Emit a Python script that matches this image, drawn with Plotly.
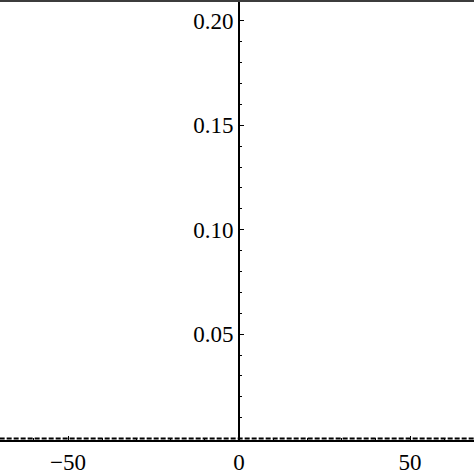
import plotly.graph_objects as go

# curve values (flat at zero over the whole range)
x_vals = [-70, -60, -50, -40, -30, -20, -10, 0, 10, 20, 30, 40, 50, 60, 70]
y_vals = [0, 0, 0, 0, 0, 0, 0, 0, 0, 0, 0, 0, 0, 0, 0]

y_ticks = [0.05, 0.10, 0.15, 0.20]
x_ticks = [-50, 0, 50]

x_range = [-69.9, 68.7]
y_range = [-0.0007, 0.21]

fig = go.Figure()
fig.add_trace(go.Scatter(x=x_vals, y=y_vals, mode='lines',
                         line=dict(color='black', width=2, dash='5px,2px'),
                         showlegend=False))

yaxis_pos = (0 - x_range[0]) / (x_range[1] - x_range[0])

fig.update_layout(
    width=474, height=474,
    margin=dict(l=0, r=0, t=0, b=34),
    paper_bgcolor='white', plot_bgcolor='white',
    font=dict(family='Liberation Serif', size=23, color='black'),
    xaxis=dict(range=x_range, tickvals=x_ticks, showgrid=False, zeroline=False,
               automargin=False, showline=True, linecolor='black', linewidth=2,
               ticks='inside', ticklen=4, tickcolor='black',
               minor=dict(ticks='inside', dtick=10, ticklen=2, tickcolor='black')),
    yaxis=dict(range=y_range, tickvals=y_ticks, tickformat='.2f', showgrid=False,
               zeroline=False, automargin=False, showline=True, linecolor='black', linewidth=2,
               anchor='free', position=yaxis_pos,
               ticks='inside', ticklen=4, tickcolor='black',
               minor=dict(ticks='inside', tickvals=[0.01, 0.02, 0.03, 0.04, 0.06, 0.07, 0.08, 0.09,
                                                    0.11, 0.12, 0.13, 0.14, 0.16, 0.17, 0.18, 0.19],
                          ticklen=2, tickcolor='black')),
)

# dark strip along the very top edge
fig.add_shape(type='rect', xref='paper', yref='paper', x0=0, x1=1, y0=1 - 2 / 440, y1=1,
              fillcolor='#3c3c3c', line=dict(width=0))

# page body has a default 8px margin, drop it so the figure fills the window
fig.write_html("out.html", config={'displayModeBar': False},
               post_script="document.body.style.margin='0';")
